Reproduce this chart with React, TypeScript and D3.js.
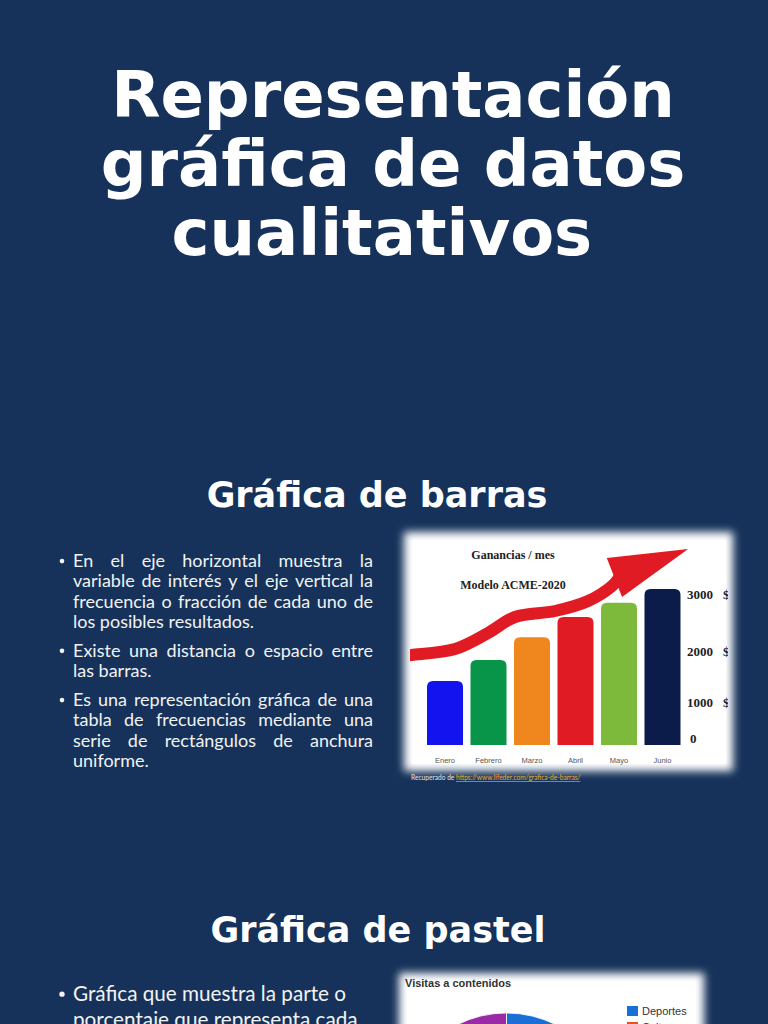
import React from 'react';
import * as d3 from 'd3';

const W = 768;
const H = 1024;
const BG = '#16325a';

const titleLines = ['Representación', 'gráfica de datos', 'cualitativos '];
const sectionTitles = ['Gráfica de barras', 'Gráfica de pastel'];

const barBullets = [
  ['En el eje horizontal muestra la', 'variable de interés y el eje vertical la', 'frecuencia o fracción de cada uno de', 'los posibles resultados.'],
  ['Existe una distancia o espacio entre', 'las barras.'],
  ['Es una representación gráfica de una', 'tabla de frecuencias mediante una', 'serie de rectángulos de anchura', 'uniforme.'],
];
const pieBullets = [['Gráfica que muestra la parte o', 'porcentaje que representa cada']];

// bar chart (image "Ganancias / mes")
const months = ['Enero', 'Febrero', 'Marzo', 'Abril', 'Mayo', 'Junio'];
const ganancias = [1570, 1970, 2380, 2730, 2970, 3200];
const barColors = ['#1313f0', '#08954a', '#f0871e', '#e11b24', '#7db93b', '#0b1c4b'];
const yTicks = [0, 1000, 2000, 3000];
// arrow drawn in (month index, value) space
const arrowBody = [[-0.95, 2040], [-0.76, 2060], [0.23, 2169], [0.99, 2454], [1.61, 2730], [2.53, 2832], [3.29, 3000], [3.84, 3248], [4.0, 3380]];
const arrowHead = [[3.72, 3698], [5.59, 3839], [4.07, 3067]];

// pie chart (image "Visitas a contenidos")
const pieCats = ['Deportes', 'Cultura', 'Economía', 'Tecnología', 'Política'];
const pieVisits = [30, 20, 18, 17, 15];
const pieColors = ['#1a6fd6', '#e4521f', '#f4a21c', '#2b9a3f', '#9a2aa6'];

let ctx: CanvasRenderingContext2D | null = null;
function textWidth(s: string, font: string) {
  if (!ctx) ctx = document.createElement('canvas').getContext('2d');
  ctx!.font = font;
  return ctx!.measureText(s).width;
}

const BODY_FONT = 'Lato';

function Line({ text, x, right, y, size, justify }: any) {
  if (!justify) {
    return <text x={x} y={y} fontSize={size}>{text}</text>;
  }
  const font = `${size}px ${BODY_FONT}`;
  const words = text.split(' ');
  const widths = words.map((w: string) => textWidth(w, font));
  const gap = (right - x - d3.sum(widths)) / (words.length - 1);
  let cx = x;
  return (
    <text y={y} fontSize={size}>
      {words.map((w: string, i: number) => {
        const el = <tspan key={i} x={cx}>{w}</tspan>;
        cx += widths[i] + gap;
        return el;
      })}
    </text>
  );
}

function Bullets({ paras, x, right, y0, lineH, paraGap, size, justify }: any) {
  let y = y0;
  const out: any[] = [];
  paras.forEach((lines: string[], p: number) => {
    out.push(<circle key={'b' + p} cx={x - 11} cy={y - size * 0.33} r={size * 0.13} fill="#f2f2f2" />);
    lines.forEach((ln, i) => {
      out.push(
        <Line key={p + '-' + i} text={ln} x={x} right={right} y={y} size={size}
          justify={justify && i < lines.length - 1} />
      );
      y += lineH;
    });
    y += paraGap;
  });
  return <g fill="#f2f2f2" fontFamily={BODY_FONT}>{out}</g>;
}

function roundedTop(x: number, y: number, w: number, h: number, r: number) {
  return `M${x},${y + h}V${y + r}Q${x},${y} ${x + r},${y}H${x + w - r}Q${x + w},${y} ${x + w},${y + r}V${y + h}Z`;
}

function BarImage() {
  const x = d3.scaleBand<string>().domain(months).range([427, 680.5]).paddingInner(0.172).paddingOuter(0);
  const y = d3.scalePow().exponent(1.25).domain([0, 3000]).range([745, 601]);
  const xi = d3.scaleLinear().domain([0, 5]).range([x('Enero')! + x.bandwidth() / 2, x('Junio')! + x.bandwidth() / 2]);
  const body = d3.line<number[]>().x(d => xi(d[0])).y(d => y(d[1])).curve(d3.curveCatmullRom)(arrowBody)!;
  const head = arrowHead.map(d => `${xi(d[0])},${y(d[1])}`).join(' ');
  return (
    <g>
      <rect x={404} y={532} width={329} height={239} fill="#ffffff" filter="url(#glow)" />
      <rect x={412} y={540} width={314} height={224} fill="#ffffff" />
      <g clipPath="url(#barclip)">
        <g fontFamily="Liberation Serif" fontWeight="bold" fill="#222">
          <text x={513} y={559} fontSize={12} textAnchor="middle">Ganancias / mes</text>
          <text x={513} y={589} fontSize={12} textAnchor="middle">Modelo ACME-2020</text>
        </g>
        {ganancias.map((v, i) => (
          <path key={i} d={roundedTop(x(months[i])!, y(v), x.bandwidth(), y(0) - y(v), 6)} fill={barColors[i]} />
        ))}
        <path d={body} fill="none" stroke="#e01b24" strokeWidth={12} />
        <polygon points={head} fill="#e01b24" />
        <g fontFamily="Liberation Serif" fontWeight="bold" fontSize={13} fill="#222">
          {yTicks.map(t => (
            <g key={t}>
              <text x={t === 0 ? 690 : 687} y={y(t) - 2}>{t}</text>
              {t > 0 && <text x={723} y={y(t) - 2}>$</text>}
            </g>
          ))}
        </g>
        <g fontFamily="Liberation Sans" fontSize={7.5} fill="#555" textAnchor="middle">
          {months.map(m => (
            <text key={m} x={x(m)! + x.bandwidth() / 2} y={763}>{m}</text>
          ))}
        </g>
      </g>
      <text x={411} y={780} fontSize={6.6} fontFamily={BODY_FONT} fill="#e6e6e6">
        Recuperado de <tspan fill="#f2ae2a" textDecoration="underline">https://www.lifeder.com/grafica-de-barras/</tspan>
      </text>
    </g>
  );
}

function PieImage() {
  const cx = 506.5;
  const cy = 1123;
  const arcs = d3.pie<number>().sort(null)(pieVisits);
  const arc = d3.arc<d3.PieArcDatum<number>>().innerRadius(0).outerRadius(110);
  return (
    <g>
      <rect x={399} y={973} width={305} height={70} fill="#ffffff" filter="url(#glow)" />
      <rect x={407} y={981} width={289} height={60} fill="#ffffff" />
      <g transform={`translate(${cx},${cy})`}>
        {arcs.map((a, i) => (
          <path key={i} d={arc(a)!} fill={pieColors[i]} stroke="#fff" strokeWidth={0.8} />
        ))}
      </g>
      <text x={405} y={987} fontFamily="Liberation Sans" fontWeight="bold" fontSize={11} fill="#333">Visitas a contenidos</text>
      <g fontFamily="Liberation Sans" fontSize={11} fill="#333">
        {pieCats.map((c, i) => (
          <g key={c} transform={`translate(627,${1006 + i * 16})`}>
            <rect width={11} height={10} fill={pieColors[i]} />
            <text x={15} y={8.5}>{c}</text>
          </g>
        ))}
      </g>
    </g>
  );
}

export default function App() {
  return (
    <svg width={W} height={H} viewBox={`0 0 ${W} ${H}`} style={{ position: 'absolute', left: 0, top: 0, display: 'block' }}>
      <defs>
        <filter id="glow" x="-10%" y="-20%" width="120%" height="140%">
          <feGaussianBlur stdDeviation={4} />
        </filter>
        <clipPath id="barclip">
          <rect x={410} y={536} width={318} height={232} />
        </clipPath>
      </defs>
      <rect width={W} height={H} fill={BG} />
      <g fontFamily="DejaVu Sans" fontWeight="bold" fill="#ffffff" textAnchor="middle">
        {titleLines.map((t, i) => (
          <text key={i} x={393} y={117 + i * 69} fontSize={64} style={{ whiteSpace: 'pre' }}>{t}</text>
        ))}
        <text x={377} y={507} fontSize={35}>{sectionTitles[0]}</text>
        <text x={378} y={942} fontSize={35}>{sectionTitles[1]}</text>
      </g>
      <Bullets paras={barBullets} x={73} right={373} y0={567} lineH={20.3} paraGap={8.6} size={18} justify />
      <Bullets paras={pieBullets} x={73} right={373} y0={1001} lineH={26} paraGap={0} size={20.7} justify={false} />
      <BarImage />
      <PieImage />
    </svg>
  );
}
